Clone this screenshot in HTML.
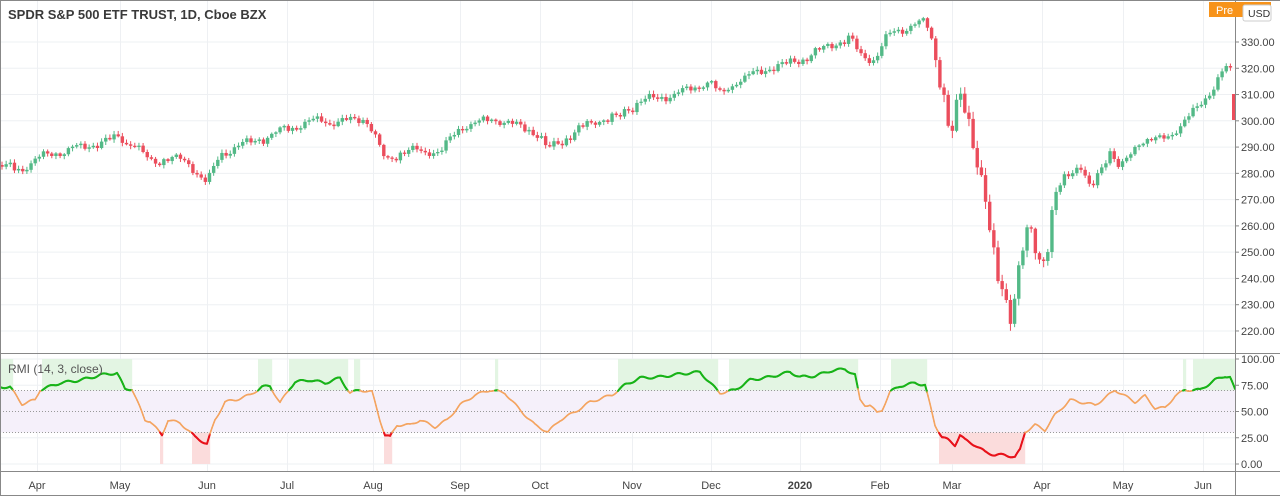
<!DOCTYPE html><html><head><meta charset="utf-8"><style>
html,body{margin:0;padding:0;background:#fff;width:1280px;height:496px;overflow:hidden}
svg{display:block;font-family:"Liberation Sans",sans-serif}
</style></head><body>
<svg id="s" width="1280" height="496" xmlns="http://www.w3.org/2000/svg">
<rect width="1280" height="496" fill="#fff"/>
<g id="grid"></g>
<rect x="0" y="390.5" width="1235" height="42" fill="#f5f0fa"/>
<g id="shade"></g>
<line x1="0" x2="1235" y1="390.5" y2="390.5" stroke="#999" stroke-dasharray="1,2"/>
<line x1="0" x2="1235" y1="411.5" y2="411.5" stroke="#999" stroke-dasharray="1,2"/>
<line x1="0" x2="1235" y1="432.5" y2="432.5" stroke="#999" stroke-dasharray="1,2"/>
<g id="candles"></g>
<g id="rmi"></g>
<line x1="0" x2="1280" y1="353.5" y2="353.5" stroke="#888"/>
<line x1="0" x2="1280" y1="471.5" y2="471.5" stroke="#888"/>
<line x1="1235.5" x2="1235.5" y1="0" y2="496" stroke="#888"/>
<line x1="0.5" x2="0.5" y1="0" y2="496" stroke="#888"/>
<line x1="0" x2="1280" y1="0.5" y2="0.5" stroke="#888"/>
<line x1="0" x2="1280" y1="495.5" y2="495.5" stroke="#888"/>
<g id="axis" font-size="11" fill="#444"></g>
<text x="8" y="19" font-size="13" font-weight="bold" fill="#3a3a3a">SPDR S&amp;P 500 ETF TRUST, 1D, Cboe BZX</text>
<text x="8" y="373" font-size="12" fill="#555">RMI (14, 3, close)</text>
<rect x="1209" y="2" width="62" height="15" fill="#f7931a"/>
<text x="1216" y="14" font-size="11" fill="#fff">Pre</text>
<rect x="1243" y="5" width="28" height="16" rx="2" fill="#fff" stroke="#ccc"/>
<text x="1248" y="17" font-size="10.5" fill="#333">USD</text>
</svg>
<script>
const NS="http://www.w3.org/2000/svg";
function el(p,t,a,tx){const e=document.createElementNS(NS,t);for(const k in a)e.setAttribute(k,a[k]);if(tx!==undefined)e.textContent=tx;document.getElementById(p).appendChild(e);return e;}
const months=[["Apr",37],["May",120],["Jun",207],["Jul",287],["Aug",373],["Sep",460],["Oct",540],["Nov",632],["Dec",711],["2020",800],["Feb",880],["Mar",952],["Apr",1042],["May",1123],["Jun",1203]];
months.forEach(([m,x])=>{el("grid","line",{x1:x+.5,x2:x+.5,y1:0,y2:471,stroke:"#eef0f3"});el("axis","text",{x:x,y:489,"text-anchor":"middle","font-weight":m=="2020"?"bold":"normal"},m);});
for(let p=220;p<=330;p+=10){const y=42+(330-p)*2.627;el("grid","line",{x1:0,x2:1235,y1:y,y2:y,stroke:"#eef0f3"});el("axis","text",{x:1241,y:y+4},p.toFixed(2));el("axis","line",{x1:1235,x2:1239,y1:y,y2:y,stroke:"#888"});}
[100,75,50,25,0].forEach(v=>{const y=464-v*1.05;el("grid","line",{x1:0,x2:1235,y1:y,y2:y,stroke:"#eef0f3"});el("axis","text",{x:1241,y:y+4},v.toFixed(2));el("axis","line",{x1:1235,x2:1239,y1:y,y2:y,stroke:"#888"});});
function interp(pts,x){for(let i=1;i<pts.length;i++){if(x<=pts[i][0]){const a=pts[i-1],b=pts[i];return a[1]+(b[1]-a[1])*(x-a[0])/(b[0]-a[0]);}}return pts[pts.length-1][1];}
const P=[[0,165],[20,172],[37,158],[60,152],[90,146],[118,137],[135,145],[150,162],[165,158],[185,160],[195,170],[207,183],[220,155],[240,145],[260,140],[290,128],[320,120],[340,122],[365,118],[372,130],[385,160],[400,152],[420,150],[440,152],[460,128],[480,122],[500,120],[520,127],[540,135],[547,150],[570,135],[590,122],[620,115],[640,100],[660,98],[690,90],[710,82],[720,95],[740,80],[770,68],[800,60],[830,45],[850,38],[860,55],[875,60],[885,40],[900,30],[925,22],[930,32],[937,60],[945,100],[950,145],[960,95],[970,120],[978,165],[985,200],[990,240],[998,275],[1005,290],[1012,320],[1020,265],[1030,225],[1040,258],[1048,248],[1055,200],[1065,175],[1080,165],[1090,190],[1110,150],[1120,170],[1140,140],[1160,140],[1175,132],[1200,105],[1215,85],[1225,68],[1233,70]];
let prev=interp(P,0);
for(let x=2;x<1234;x+=4.15){const vol=(x>935&&x<1060)?9:3.5;let c=interp(P,x)+Math.sin(x*1.7)*vol*0.9+Math.sin(x*0.53)*vol*0.6;let o=prev;if(Math.abs(c-o)<1.2)c=o+(Math.sin(x*3)>0?1.5:-1.5);const up=c<o;const col=up?"#53b987":"#eb4d5c";const t=Math.min(o,c),b=Math.max(o,c);
el("candles","line",{x1:x,x2:x,y1:t-1-Math.abs(Math.sin(x*2.3))*vol*0.7,y2:b+1+Math.abs(Math.cos(x*1.9))*vol*0.7,stroke:col,"stroke-width":1});
el("candles","rect",{x:x-1.7,y:t,width:3.4,height:b-t,fill:col});prev=c;}
el("candles","rect",{x:1232,y:94,width:3,height:26,fill:"#eb4d5c"});
const R=[[0,387],[10,387],[22,404],[35,400],[40,390],[60,383],[75,381],[90,378],[100,375],[117,373],[125,389],[132,389],[140,408],[145,420],[150,421],[160,433],[162,435],[168,420],[180,423],[188,430],[195,437],[207,444],[215,420],[225,402],[235,400],[250,395],[262,387],[270,386],[280,403],[290,388],[295,382],[310,380],[325,383],[340,378],[350,393],[360,390],[372,392],[380,420],[385,435],[390,437],[397,425],[410,425],[420,420],[435,427],[447,420],[460,405],[475,395],[490,390],[505,393],[520,410],[535,425],[548,432],[560,420],[575,412],[590,402],[612,395],[625,385],[640,378],[660,377],[680,374],[700,372],[712,385],[720,393],[735,390],[750,380],[770,377],[790,372],[800,377],[815,376],[830,371],[845,369],[855,375],[860,400],[865,405],[870,405],[877,413],[882,410],[890,392],[900,386],[915,383],[925,385],[935,425],[942,437],[948,440],[955,445],[960,435],[965,440],[975,445],[985,452],[995,455],[1005,455],[1015,457],[1020,450],[1025,432],[1035,425],[1045,430],[1055,415],[1070,400],[1085,403],[1095,405],[1105,398],[1115,390],[1125,396],[1135,402],[1145,396],[1155,408],[1165,408],[1175,396],[1185,390],[1200,390],[1215,380],[1225,376],[1230,377],[1235,390]];
let py=interp(R,0);
for(let x=1;x<=1235;x+=1){const y=interp(R,x)+Math.sin(x*0.35)*1.2;const my=(y+py)/2;let col="#f4a460";
if(my<390.5){col="#18b318";el("shade","rect",{x:x-1,y:359,width:1.2,height:31.5,fill:"#e3f5e3"});}
else if(my>432.5){col="#e8121b";el("shade","rect",{x:x-1,y:432.5,width:1.2,height:31.5,fill:"#fbdcdc"});}
el("rmi","line",{x1:x-1,x2:x,y1:py,y2:y,stroke:col,"stroke-width":my<390.5||my>432.5?2:1.6,"stroke-linecap":"round"});py=y;}
</script>
</body></html>
